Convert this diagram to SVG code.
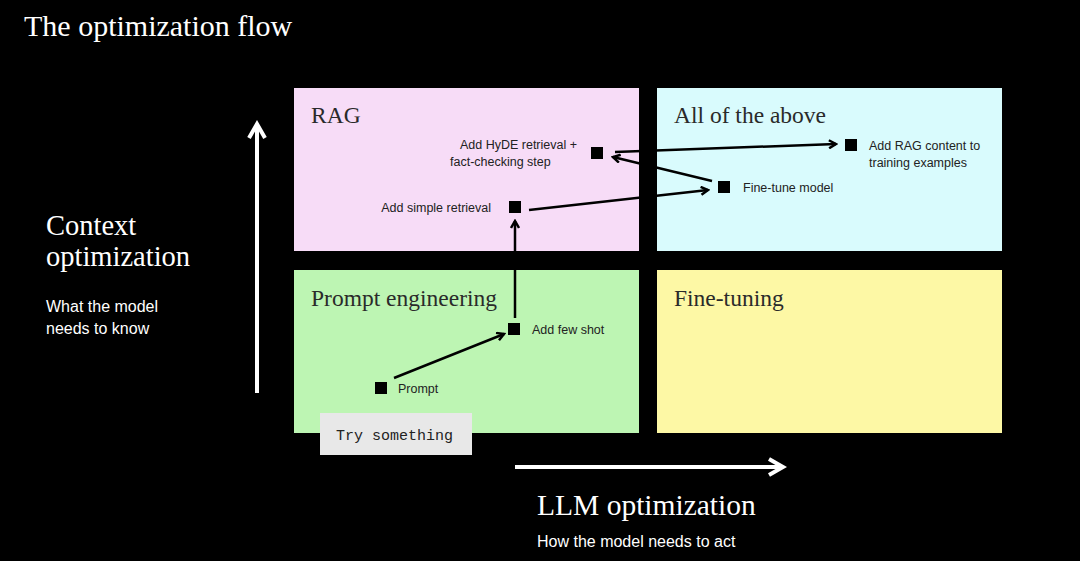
<svg xmlns="http://www.w3.org/2000/svg" width="1080" height="561" viewBox="0 0 1080 561">
<style>
.serif{font-family:"Liberation Serif",serif;}
.sans{font-family:"Liberation Sans","DejaVu Sans",sans-serif;}
.q{font-family:"Liberation Serif",serif;font-size:23.5px;fill:#2a2a2a;}
.lbl{font-family:"Liberation Sans",sans-serif;font-size:12.5px;fill:#222;}
.c{stroke:#000;stroke-width:2.5;fill:none;marker-end:url(#ah);}
.w{stroke:#fff;stroke-width:4;fill:none;marker-end:url(#wh);}
</style>
<defs>
<marker id="ah" markerWidth="10" markerHeight="10" refX="8" refY="5" orient="auto" markerUnits="userSpaceOnUse"><path d="M1,1 L8,5 L1,9" fill="none" stroke="#000" stroke-width="2.5"/></marker>
<marker id="wh" markerWidth="20" markerHeight="20" refX="16" refY="10" orient="auto" markerUnits="userSpaceOnUse"><path d="M2,2 L16,10 L2,18" fill="none" stroke="#fff" stroke-width="4"/></marker>
</defs>
<rect width="1080" height="561" fill="#000"/>
<text class="serif" x="24" y="36" font-size="30" fill="#fff">The optimization flow</text>
<text class="serif" x="46" y="235" font-size="28.5" fill="#fff">Context</text>
<text class="serif" x="46" y="266" font-size="28.5" fill="#fff">optimization</text>
<text class="sans" x="46" y="312" font-size="16" fill="#fff">What the model</text>
<text class="sans" x="46" y="334" font-size="16" fill="#fff">needs to know</text>
<text class="serif" x="537" y="515" font-size="29.5" fill="#fff">LLM optimization</text>
<text class="sans" x="537" y="547" font-size="16" fill="#fff">How the model needs to act</text>
<g id="axes">
<path class="w" d="M257,393 L257,124"/>
<path class="w" d="M515,467 L783,467"/>
</g>
<g id="q-rag"><rect x="294" y="88" width="345" height="163" fill="#f7dcf7"/><text class="q" x="311" y="123">RAG</text></g>
<g id="q-all"><rect x="657" y="88" width="345" height="163" fill="#d9fbfd"/><text class="q" x="674" y="123">All of the above</text></g>
<g id="q-prompt"><rect x="294" y="270" width="345" height="163" fill="#bdf5b3"/><text class="q" x="311" y="306">Prompt engineering</text></g>
<g id="q-ft"><rect x="657" y="270" width="345" height="163" fill="#fdf8a5"/><text class="q" x="674" y="306">Fine-tuning</text></g>
<g id="try"><rect x="320" y="413" width="152" height="42" fill="#e8e8e8"/><text x="336" y="440" font-family="Liberation Mono,monospace" font-size="15" fill="#222">Try something</text></g>
<g id="n-prompt"><rect x="375" y="382" width="12" height="12" fill="#000"/><text class="lbl" x="398" y="393">Prompt</text></g>
<g id="n-few"><rect x="508" y="323" width="12" height="12" fill="#000"/><text class="lbl" x="532" y="334">Add few shot</text></g>
<g id="n-simple"><rect x="509" y="201" width="12" height="12" fill="#000"/><text class="lbl" x="491" y="212" text-anchor="end">Add simple retrieval</text></g>
<g id="n-hyde"><rect x="591" y="147" width="12" height="12" fill="#000"/><text class="lbl" x="577" y="149" text-anchor="end">Add HyDE retrieval +</text><text class="lbl" x="450" y="166">fact-checking step</text></g>
<g id="n-ftm"><rect x="718" y="181" width="12" height="12" fill="#000"/><text class="lbl" x="743" y="192">Fine-tune model</text></g>
<g id="n-ragc"><rect x="845" y="139" width="12" height="12" fill="#000"/><text class="lbl" x="869" y="150">Add RAG content to</text><text class="lbl" x="869" y="167">training examples</text></g>
<g id="connectors">
<path class="c" d="M394,378 L504,334"/>
<path class="c" d="M515,318 L515,221"/>
<path class="c" d="M529,210 L708,190"/>
<path class="c" d="M712,181 L613,157"/>
<path class="c" d="M615,152 L836,144"/>
</g>
</svg>
